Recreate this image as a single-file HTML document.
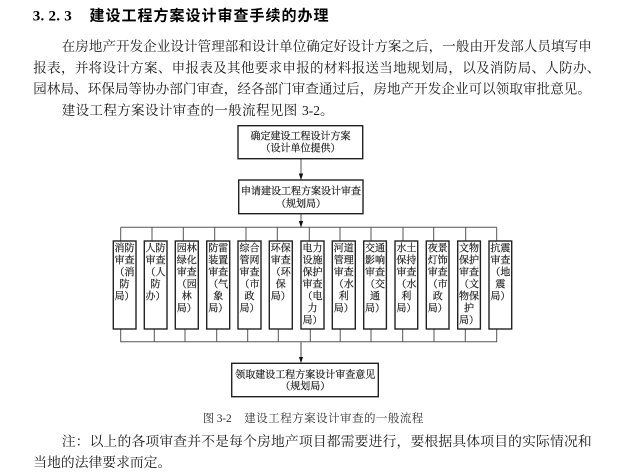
<!DOCTYPE html>
<html lang="zh"><head><meta charset="utf-8"><style>
html,body{margin:0;padding:0;background:#fff;width:617px;height:476px;overflow:hidden}
svg{display:block;filter:blur(.3px)}
text{font-family:"Liberation Serif","Noto Serif CJK SC",serif;fill:#1a1a1a}
.b{font-size:13.5px}
.h{font-family:"Liberation Sans","Noto Sans CJK SC",sans-serif;font-size:15px;font-weight:bold;fill:#000}
.l{font-size:10px;text-anchor:middle;stroke:#1a1a1a;stroke-width:.2px}
.s{font-size:10px;text-anchor:middle;stroke:#1a1a1a;stroke-width:.2px}
.c{font-size:11.5px;fill:#333}
.w{font-size:13.8px}
rect{fill:#fff;stroke:#222;stroke-width:1.4}
path.k{fill:none;stroke:#555;stroke-width:1}
path.g{fill:none;stroke:#777;stroke-width:1.4}
path.a{fill:#111;stroke:none}
</style></head><body>
<svg width="617" height="476" viewBox="0 0 617 476" xmlns="http://www.w3.org/2000/svg">
<text class="h" x="32.7" y="20.7" textLength="39" lengthAdjust="spacing" style="font-family:'Liberation Serif',serif">3. 2. 3</text>
<text class="h" x="89.5" y="20.7" textLength="239" lengthAdjust="spacing">建设工程方案设计审查手续的办理</text>
<text class="b" x="61.7" y="51" textLength="530" lengthAdjust="spacing">在房地产开发企业设计管理部和设计单位确定好设计方案之后，一般由开发部人员填写申</text>
<text class="b" x="33.3" y="72.5" textLength="567" lengthAdjust="spacing">报表，并将设计方案、申报表及其他要求申报的材料报送当地规划局，以及消防局、人防办、</text>
<text class="b" x="33.3" y="93.5" textLength="557.6" lengthAdjust="spacing">园林局、环保局等协办部门审查，经各部门审查通过后，房地产开发企业可以领取审批意见。</text>
<text class="b" x="61.7" y="115" textLength="235.5" lengthAdjust="spacing">建设工程方案设计审查的一般流程见图</text>
<text class="b" x="302" y="115">3-2。</text>

<path class="k" d="M301 158.7V180M301 213.7V227.3M120.7 227.3H496.7M120.7 227.3V241M152 227.3V241M183.3 227.3V241M214.7 227.3V241M246 227.3V241M277.3 227.3V241M309.3 227.3V241M340 227.3V241M371 227.3V241M403 227.3V241M433.7 227.3V241M465.7 227.3V241M496.7 227.3V241"/>
<path class="k" d="M120.7 329V341.7H496.7V329M154.3 329V341.7M185 329V341.7M216.7 329V341.7M247.7 329V341.7M278.3 329V341.7M310.3 329V341.7M340.2 329V341.7M371 329V341.7M402.7 329V341.7M434 329V341.7M465.3 329V341.7"/>
<path class="g" d="M301 341.7V360"/>
<path class="a" d="M298.8 173.5H303.2L301 180ZM298.8 221H303.2L301 227.5ZM299 357H303L301 363.3Z"/>

<rect x="238" y="125.7" width="124.7" height="33"/>
<text class="l" x="300.5" y="139.4">确定建设工程设计方案</text>
<text class="l" x="300.5" y="151.7">（设计单位提供）</text>
<rect x="238.7" y="180" width="124.3" height="33.7"/>
<text class="l" x="301" y="194.7">申请建设工程方案设计审查</text>
<text class="l" x="301" y="207">（规划局）</text>
<rect x="231.7" y="363.3" width="146.6" height="33.4"/>
<text class="l" x="305.3" y="377.8">领取建设工程方案设计审查意见</text>
<text class="l" x="305.3" y="389.5">（规划局）</text>

<rect x="113.3" y="241" width="22.7" height="88"/>
<text class="s"><tspan x="124.5" y="251.7">消防</tspan><tspan x="124.5" y="263.7">审查</tspan><tspan x="124.5" y="275.7">（消</tspan><tspan x="124.5" y="287.7">防</tspan><tspan x="124.5" y="299.7">局）</tspan></text>
<rect x="144.3" y="241" width="22.7" height="88"/>
<text class="s"><tspan x="155.5" y="251.7">人防</tspan><tspan x="155.5" y="263.7">审查</tspan><tspan x="155.5" y="275.7">（人</tspan><tspan x="155.5" y="287.7">防</tspan><tspan x="155.5" y="299.7">办）</tspan></text>
<rect x="175.3" y="241" width="23" height="88"/>
<text class="s"><tspan x="186.8" y="251.7">园林</tspan><tspan x="186.8" y="263.7">绿化</tspan><tspan x="186.8" y="275.7">审查</tspan><tspan x="186.8" y="287.7">（园</tspan><tspan x="186.8" y="299.7">林</tspan><tspan x="186.8" y="311.7">局）</tspan></text>
<rect x="206.7" y="241" width="23" height="88"/>
<text class="s"><tspan x="218.2" y="251.7">防雷</tspan><tspan x="218.2" y="263.7">装置</tspan><tspan x="218.2" y="275.7">审查</tspan><tspan x="218.2" y="287.7">（气</tspan><tspan x="218.2" y="299.7">象</tspan><tspan x="218.2" y="311.7">局）</tspan></text>
<rect x="238" y="241" width="23" height="88"/>
<text class="s"><tspan x="249.5" y="251.7">综合</tspan><tspan x="249.5" y="263.7">管网</tspan><tspan x="249.5" y="275.7">审查</tspan><tspan x="249.5" y="287.7">（市</tspan><tspan x="249.5" y="299.7">政</tspan><tspan x="249.5" y="311.7">局）</tspan></text>
<rect x="269.3" y="241" width="23" height="88"/>
<text class="s"><tspan x="280.8" y="251.7">环保</tspan><tspan x="280.8" y="263.7">审查</tspan><tspan x="280.8" y="275.7">（环</tspan><tspan x="280.8" y="287.7">保</tspan><tspan x="280.8" y="299.7">局）</tspan></text>
<rect x="301" y="241" width="23" height="88"/>
<text class="s"><tspan x="312.5" y="251.7">电力</tspan><tspan x="312.5" y="263.7">设施</tspan><tspan x="312.5" y="275.7">保护</tspan><tspan x="312.5" y="287.7">审查</tspan><tspan x="312.5" y="299.7">（电</tspan><tspan x="312.5" y="311.7">力</tspan><tspan x="312.5" y="323.7">局）</tspan></text>
<rect x="332.3" y="241" width="23" height="88"/>
<text class="s"><tspan x="343.8" y="251.7">河道</tspan><tspan x="343.8" y="263.7">管理</tspan><tspan x="343.8" y="275.7">审查</tspan><tspan x="343.8" y="287.7">（水</tspan><tspan x="343.8" y="299.7">利</tspan><tspan x="343.8" y="311.7">局）</tspan></text>
<rect x="363.7" y="241" width="22.7" height="88"/>
<text class="s"><tspan x="375" y="251.7">交通</tspan><tspan x="375" y="263.7">影响</tspan><tspan x="375" y="275.7">审查</tspan><tspan x="375" y="287.7">（交</tspan><tspan x="375" y="299.7">通</tspan><tspan x="375" y="311.7">局）</tspan></text>
<rect x="395" y="241" width="22.7" height="88"/>
<text class="s"><tspan x="406.4" y="251.7">水土</tspan><tspan x="406.4" y="263.7">保持</tspan><tspan x="406.4" y="275.7">审查</tspan><tspan x="406.4" y="287.7">（水</tspan><tspan x="406.4" y="299.7">利</tspan><tspan x="406.4" y="311.7">局）</tspan></text>
<rect x="426.3" y="241" width="22.7" height="88"/>
<text class="s"><tspan x="437.7" y="251.7">夜景</tspan><tspan x="437.7" y="263.7">灯饰</tspan><tspan x="437.7" y="275.7">审查</tspan><tspan x="437.7" y="287.7">（市</tspan><tspan x="437.7" y="299.7">政</tspan><tspan x="437.7" y="311.7">局）</tspan></text>
<rect x="457.7" y="241" width="22.7" height="88"/>
<text class="s"><tspan x="469" y="251.7">文物</tspan><tspan x="469" y="263.7">保护</tspan><tspan x="469" y="275.7">审查</tspan><tspan x="469" y="287.7">（文</tspan><tspan x="469" y="299.7">物保</tspan><tspan x="469" y="311.7">护</tspan><tspan x="469" y="323.7">局）</tspan></text>
<rect x="489" y="241" width="22.7" height="88"/>
<text class="s"><tspan x="500.4" y="251.7">抗震</tspan><tspan x="500.4" y="263.7">审查</tspan><tspan x="500.4" y="275.7">（地</tspan><tspan x="500.4" y="287.7">震</tspan><tspan x="500.4" y="299.7">局）</tspan></text>

<text class="c" x="202.7" y="422" textLength="29" lengthAdjust="spacing">图 3-2</text>
<text class="c" x="244.3" y="422" textLength="179" lengthAdjust="spacing">建设工程方案设计审查的一般流程</text>
<text class="w" x="61.7" y="446" textLength="530" lengthAdjust="spacing">注：以上的各项审查并不是每个房地产项目都需要进行，要根据具体项目的实际情况和</text>
<text class="w" x="33.3" y="467" textLength="138" lengthAdjust="spacing">当地的法律要求而定。</text>
</svg>
</body></html>
